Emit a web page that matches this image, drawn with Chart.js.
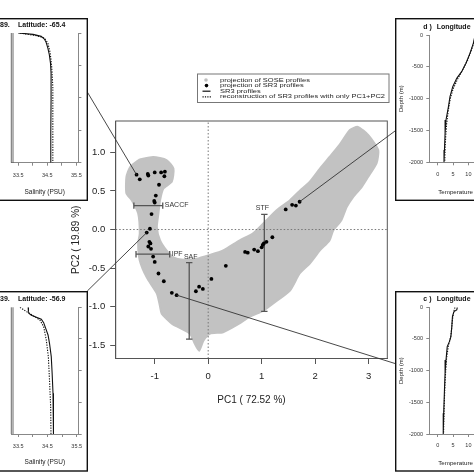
<!DOCTYPE html>
<html><head><meta charset="utf-8">
<script src="https://cdn.jsdelivr.net/npm/chart.js@4.4.1/dist/chart.umd.min.js"></script>
<style>
html,body{margin:0;padding:0;background:#fff;overflow:hidden;width:474px;height:474px;position:relative;}
canvas{position:absolute;display:block;}
</style></head><body>
<canvas id="main" width="474" height="474" style="left:0;top:0;width:474px;height:474px"></canvas>
<canvas id="pa" width="88" height="183" style="left:0;top:18px;width:88px;height:183px"></canvas>
<canvas id="pb" width="88" height="181" style="left:0;top:291px;width:88px;height:181px"></canvas>
<canvas id="pc" width="110" height="181" style="left:395px;top:291px;width:110px;height:181px"></canvas>
<canvas id="pd" width="110" height="183" style="left:395px;top:18px;width:110px;height:183px"></canvas>
<script>
// ---------------- DATA ----------------
const pc1Ticks = [-1, 0, 1, 2, 3];
const pc2Ticks = [-1.5, -1, -0.5, 0, 0.5, 1];
const pc1Min = -1.73, pc1Max = 3.35, pc2Min = -1.671, pc2Max = 1.406;

// outline of the cloud of SOSE projections
const soseOutlinePC1 = [-1.28,-1.03,-0.78,-0.65,-0.68,-0.84,-0.90,-0.93,-0.96,-0.90,-0.78,-0.65,-0.47,-0.22,0.03,0.28,0.59,0.84,1.09,1.28,1.53,1.71,1.90,2.09,2.27,2.46,2.65,2.80,3.00,3.18,3.15,2.99,2.87,2.71,2.59,2.49,2.34,2.27,2.09,1.90,1.71,1.53,1.21,1.03,0.78,0.53,0.28,0.03,-0.09,-0.17,-0.25,-0.34,-0.68,-0.87,-0.90,-0.96,-1.15,-1.28,-1.31,-1.28,-1.31,-1.43,-1.53,-1.53,-1.46,-1.28];
const soseOutlinePC2 = [0.91,0.94,0.90,0.79,0.62,0.53,0.38,0.21,0.03,-0.14,-0.27,-0.36,-0.39,-0.38,-0.33,-0.27,-0.14,-0.05,0.12,0.25,0.38,0.50,0.62,0.79,0.94,1.10,1.29,1.33,1.22,1.03,0.86,0.68,0.55,0.42,0.29,0.12,-0.01,-0.14,-0.27,-0.44,-0.57,-0.79,-0.96,-1.05,-1.13,-1.24,-1.33,-1.35,-1.44,-1.57,-1.48,-1.35,-1.22,-1.09,-1.0,-0.83,-0.62,-0.40,-0.18,-0.05,0.21,0.38,0.47,0.68,0.81,0.91];

// SR3 projections
const sr3PC1 = [-1.34,-1.28,-1.13,-1.12,-1.00,-0.88,-0.81,-0.82,-0.92,-0.98,-1.01,-1.00,-1.06,-1.09,-1.15,-1.10,-1.08,-1.12,-1.07,-1.03,-1.00,-0.93,-0.83,-0.68,-0.59,-0.23,-0.17,-0.10,0.06,0.33,0.69,0.74,0.86,0.93,1.00,1.02,1.04,1.09,1.20,1.45,1.57,1.64,1.71];
const sr3PC2 = [0.71,0.65,0.72,0.70,0.74,0.74,0.75,0.69,0.58,0.44,0.37,0.35,0.20,0.01,-0.04,-0.16,-0.18,-0.22,-0.25,-0.35,-0.42,-0.57,-0.67,-0.82,-0.85,-0.80,-0.74,-0.77,-0.64,-0.47,-0.29,-0.30,-0.26,-0.28,-0.23,-0.20,-0.18,-0.16,-0.10,0.26,0.32,0.31,0.36];

// fronts (range bars)
const frontNames   = ['SACCF', 'IPF', 'SAF', 'STF'];
const frontPC1From = [-1.39, -1.35, -0.355, 1.05];
const frontPC1To   = [-0.85, -0.72, -0.355, 1.05];
const frontPC2From = [0.31, -0.32, -1.42, -1.06];
const frontPC2To   = [0.31, -0.32, -0.43, 0.195];

const legendLabels = ['projection of SOSE profiles', 'projection of SR3 profiles', 'SR3 profiles', 'reconstruction of SR3 profiles with only PC1+PC2'];

// SR3 points shown as profiles in the insets a, b, d, c
const profileIndex = [0, 14, 42, 24];

// inset profiles
const depthTicks = [0, -500, -1000, -1500, -2000];
const salinityTicks = [33.5, 34, 34.5, 35, 35.5];
const salinityLabels = [33.5, 34.5, 35.5];
const tempTicks = [0, 5, 10, 15];

const aDepthSR3 = [0,-21,-52,-93,-144,-232,-335,-464,-619,-1031,-1546,-2000];
const aSalSR3   = [33.5,34.01,34.29,34.40,34.46,34.52,34.57,34.61,34.63,34.63,34.62,34.62];
const aDepthRec = [0,-41,-77,-155,-309,-515,-825,-1289,-2000];
const aSalRec   = [33.56,34.12,34.40,34.52,34.60,34.65,34.69,34.69,34.69];

const bDepthSR3 = [0,-68,-95,-126,-158,-189,-242,-332,-437,-568,-779,-1042,-1358,-1674,-2000];
const bSalSR3   = [33.84,33.85,33.87,33.95,34.12,34.29,34.37,34.44,34.52,34.57,34.63,34.66,34.69,34.70,34.71];
const bDepthRec = [0,-68,-132,-200,-305,-516,-779,-1147,-1569,-2000];
const bSalRec   = [33.56,33.78,34.01,34.24,34.37,34.46,34.53,34.57,34.61,34.62];

const cDepthSR3 = [0,-42,-68,-147,-305,-463,-542,-621,-832,-1042,-1305,-1674,-2000];
const cTempSR3  = [6.4,6.2,5.3,4.8,4.6,4.3,3.8,3.1,2.7,2.4,2.2,1.95,1.8];
const cDepthRec = [0,-100,-200,-300,-400,-500,-600,-800,-1000,-1300,-1600,-2000];
const cTempRec  = [5.6,5.1,4.8,4.6,4.4,4.1,3.5,2.9,2.6,2.3,2.1,1.9];

const dDepthSR3 = [0,-131,-288,-445,-576,-681,-812,-969,-1126,-1335,-1545,-1806,-2000];
const dTempSR3  = [12.2,11.6,10.5,9.2,7.8,6.2,4.9,4.0,3.5,2.7,2.4,2.2,2.05];
const dDepthRec = [0,-100,-250,-400,-550,-700,-850,-1000,-1200,-1400,-1600,-1800,-2000];
const dTempRec  = [12.4,11.9,10.9,9.7,8.1,6.4,5.0,4.1,3.4,2.9,2.6,2.4,2.3];

// ---------------- DRAWING ----------------
const FONT = "'Liberation Sans', Arial, Helvetica, sans-serif";
const zip = (xs, ys) => xs.map((v, i) => ({x: v, y: ys[i]}));
// page positions of the inset edges where connector lines end (a, b, d, c)
const panelAnchors = [[87.3, 92], [87.3, 291], [395, 131], [395, 363.5]];

const frontDatasets = frontNames.map((n, i) => {
  const horiz = frontPC2From[i] === frontPC2To[i];
  return {
    label: n, data: [{x: frontPC1From[i], y: frontPC2From[i]}, {x: frontPC1To[i], y: frontPC2To[i]}],
    borderColor: '#555', borderWidth: 1.3, showLine: true, fill: false,
    pointStyle: 'line', pointRotation: horiz ? 90 : 0, pointRadius: 3.2,
    pointBorderColor: '#555', pointBorderWidth: 1.3, order: 3
  };
});

const mainPlugin = {
  id: 'mainDecor',
  afterDatasetsDraw(chart) {
    const {ctx, chartArea: a, scales: {x, y}} = chart;
    ctx.save();
    ctx.strokeStyle = '#555'; ctx.lineWidth = 1;
    ctx.strokeRect(a.left, a.top, a.right - a.left, a.bottom - a.top);
    // connectors
    ctx.strokeStyle = '#333'; ctx.lineWidth = 0.9;
    profileIndex.forEach((idx, k) => {
      ctx.beginPath();
      ctx.moveTo(x.getPixelForValue(sr3PC1[idx]), y.getPixelForValue(sr3PC2[idx]));
      ctx.lineTo(panelAnchors[k][0], panelAnchors[k][1]);
      ctx.stroke();
    });
    // front labels
    ctx.fillStyle = '#333'; ctx.font = `7px ${FONT}`;
    frontNames.forEach((n, i) => {
      const horiz = frontPC2From[i] === frontPC2To[i];
      if (horiz) {
        ctx.textAlign = 'left'; ctx.textBaseline = 'middle';
        ctx.fillText(n, x.getPixelForValue(frontPC1To[i]) + 2, y.getPixelForValue(frontPC2To[i]) - 0.5);
      } else {
        ctx.textAlign = 'center'; ctx.textBaseline = 'middle';
        const dx = i === 2 ? 1.5 : -2;
        ctx.fillText(n, x.getPixelForValue(frontPC1To[i]) + dx, y.getPixelForValue(frontPC2To[i]) - 6);
      }
    });
    // legend
    const lx = 197, ly = 73.5, lw = 191.5, lh = 28.5;
    ctx.fillStyle = '#fff'; ctx.fillRect(lx, ly, lw, lh);
    ctx.strokeStyle = '#777'; ctx.lineWidth = 1;
    ctx.strokeRect(lx + 0.5, ly + 0.5, lw, lh);
    const rows = [80, 85.6, 91.2, 96.8];
    ctx.fillStyle = '#bfbfbf'; ctx.beginPath(); ctx.arc(206, rows[0], 1.8, 0, Math.PI * 2); ctx.fill();
    ctx.fillStyle = '#000'; ctx.beginPath(); ctx.arc(206.5, rows[1], 1.8, 0, Math.PI * 2); ctx.fill();
    ctx.strokeStyle = '#111'; ctx.lineWidth = 1.2;
    ctx.beginPath(); ctx.moveTo(202.5, rows[2]); ctx.lineTo(210.5, rows[2]); ctx.stroke();
    ctx.setLineDash([1.2, 1.2]);
    ctx.beginPath(); ctx.moveTo(202.5, rows[3]); ctx.lineTo(211, rows[3]); ctx.stroke();
    ctx.setLineDash([]);
    ctx.fillStyle = '#222'; ctx.font = `6px ${FONT}`; ctx.textAlign = 'left'; ctx.textBaseline = 'middle';
    const widest = Math.max(...legendLabels.map(t => ctx.measureText(t).width));
    const sx = 165 / widest;
    legendLabels.forEach((t, i) => {
      ctx.save(); ctx.translate(220, rows[i]); ctx.scale(sx, 1); ctx.fillText(t, 0, 0); ctx.restore();
    });
    ctx.restore();
  }
};

new Chart(document.getElementById('main'), {
  type: 'line',
  data: {
    datasets: [
      {label: 'SOSE', data: zip(soseOutlinePC1, soseOutlinePC2), borderColor: '#c2c2c2', backgroundColor: '#c2c2c2',
       borderWidth: 2, fill: 'shape', pointRadius: 0, tension: 0.2, order: 10},
      {label: 'zero-x', data: [{x: 0, y: pc2Min}, {x: 0, y: pc2Max}], borderColor: '#777', borderWidth: 1,
       borderDash: [1.5, 2], pointRadius: 0, fill: false, order: 6},
      {label: 'zero-y', data: [{x: pc1Min, y: 0}, {x: pc1Max, y: 0}], borderColor: '#777', borderWidth: 1,
       borderDash: [1.5, 2], pointRadius: 0, fill: false, order: 6},
      ...frontDatasets,
      {label: 'SR3', data: zip(sr3PC1, sr3PC2), showLine: false, pointRadius: 1.9, pointBackgroundColor: '#000',
       pointBorderWidth: 0, pointBorderColor: '#000', order: 1}
    ]
  },
  options: {
    responsive: false, animation: false, events: [],
    layout: {padding: {left: 66, right: 86.7, top: 121, bottom: 67.5}},
    plugins: {legend: {display: false}, tooltip: {enabled: false}},
    scales: {
      x: {
        type: 'linear', min: pc1Min, max: pc1Max,
        afterFit: s => { s.height = 48; },
        afterBuildTicks: s => { s.ticks = pc1Ticks.map(v => ({value: v})); },
        ticks: {font: {family: FONT, size: 9.5}, color: '#222', padding: 7, maxRotation: 0, autoSkip: false, callback: v => String(v)},
        grid: {drawOnChartArea: false, drawTicks: true, tickLength: 5.5, color: '#555'},
        border: {display: true, color: '#555'},
        title: {display: true, text: 'PC1 ( 72.52 %)', font: {family: FONT, size: 10}, color: '#222', padding: {top: 0, bottom: 0}}
      },
      y: {
        type: 'linear', min: pc2Min, max: pc2Max,
        afterFit: s => { s.width = 49.7; },
        afterBuildTicks: s => { s.ticks = pc2Ticks.map(v => ({value: v})); },
        ticks: {font: {family: FONT, size: 9.5}, color: '#222', padding: 5, autoSkip: false, callback: v => v.toFixed(1)},
        grid: {drawOnChartArea: false, drawTicks: true, tickLength: 5.5, color: '#555'},
        border: {display: true, color: '#555'},
        title: {display: true, text: 'PC2 ( 19.89 %)', font: {family: FONT, size: 10}, color: '#222', padding: {top: 4, bottom: 0}}
      }
    }
  },
  plugins: [mainPlugin]
});

function inset(id, o) {
  const deco = {
    id: 'deco' + id,
    beforeDraw(chart) {
      const c = chart.ctx; c.save(); c.fillStyle = '#fff'; c.fillRect(0, 0, chart.width, chart.height); c.restore();
    },
    afterDraw(chart) {
      const c = chart.ctx, a = chart.chartArea;
      c.save();
      if (o.doubleLeft) {
        c.strokeStyle = '#444'; c.lineWidth = 0.8;
        [a.left + 0.3, a.left + 2].forEach(xx => { c.beginPath(); c.moveTo(xx, a.top); c.lineTo(xx, a.bottom); c.stroke(); });
      }
      c.fillStyle = '#111'; c.font = `bold 7px ${FONT}`; c.textBaseline = 'middle'; c.textAlign = 'left';
      o.titles.forEach(t => c.fillText(t[0], t[1], o.titleY));
      c.strokeStyle = '#111'; c.lineWidth = 1.4;
      c.strokeRect(o.border[0], o.border[1], o.border[2], o.border[3]);
      c.restore();
    }
  };
  const yOpts = {
    type: 'linear', min: -2000, max: 0, position: o.yPos,
    afterFit: s => { s.width = o.yW; },
    afterBuildTicks: s => { s.ticks = depthTicks.map(v => ({value: v})); },
    ticks: {display: o.yLabels, font: {family: FONT, size: 5.5}, color: '#333', padding: 3.3, autoSkip: false, callback: v => String(v)},
    grid: {drawOnChartArea: false, drawTicks: true, tickLength: 3, color: '#888'},
    border: {display: true, color: '#888'},
    title: {display: !!o.yTitle, text: o.yTitle || '', font: {family: FONT, size: 6}, color: '#222', padding: {top: 1.1, bottom: 0}}
  };
  return new Chart(document.getElementById(id), {
    type: 'line',
    data: {datasets: [
      {data: o.solid, borderColor: '#111', borderWidth: 1.1, pointRadius: 0, fill: false, order: 2},
      {data: o.dotted, borderColor: '#111', borderWidth: 1.1, borderDash: [1.3, 1.3], pointRadius: 0, fill: false, order: 1}
    ]},
    options: {
      responsive: false, animation: false, events: [],
      layout: {padding: o.padding},
      plugins: {legend: {display: false}, tooltip: {enabled: false}},
      scales: {
        x: {
          type: 'linear', position: 'bottom', min: o.xMin, max: o.xMax,
          afterFit: s => { s.height = o.xH; },
          afterBuildTicks: s => { s.ticks = o.xTicks.map(v => ({value: v})); },
          ticks: {font: {family: FONT, size: 5.5}, color: '#333', padding: o.xPad, maxRotation: 0, autoSkip: false,
                  callback: v => (o.xLabels.includes(v) ? String(v) : '')},
          grid: {drawOnChartArea: false, drawTicks: true, tickLength: 3, color: '#888'},
          border: {display: true, color: '#888'},
          title: {display: true, text: o.xTitle, font: {family: FONT, size: o.xTitleSize}, color: '#222', padding: {top: 0, bottom: o.xTitlePad}}
        },
        y: yOpts
      }
    },
    plugins: [deco]
  });
}

inset('pa', {
  solid: zip(aSalSR3, aDepthSR3), dotted: zip(aSalRec, aDepthRec),
  padding: {left: 11, top: 15, right: 0, bottom: 0}, yPos: 'right', yW: 8.7, yLabels: false,
  xMin: 33.253, xMax: 35.568, xH: 38.3, xPad: 6, xTitlePad: 4.4, xTitleSize: 6.5,
  xTicks: salinityTicks, xLabels: salinityLabels, xTitle: 'Salinity (PSU)',
  doubleLeft: true, titles: [['89.', 0], ['Latitude: -65.4', 18]], titleY: 7.5,
  border: [-5, 0.7, 92.3, 181.6]
});
inset('pb', {
  solid: zip(bSalSR3, bDepthSR3), dotted: zip(bSalRec, bDepthRec),
  padding: {left: 11, top: 16.3, right: 0, bottom: 0}, yPos: 'right', yW: 8.7, yLabels: false,
  xMin: 33.253, xMax: 35.568, xH: 38, xPad: 5.7, xTitlePad: 5.4, xTitleSize: 6.5,
  xTicks: salinityTicks, xLabels: salinityLabels, xTitle: 'Salinity (PSU)',
  doubleLeft: true, titles: [['39.', 0], ['Latitude: -56.9', 18]], titleY: 8.3,
  border: [-5, 0.7, 92.3, 179.3]
});
inset('pc', {
  solid: zip(cTempSR3, cDepthSR3), dotted: zip(cTempRec, cDepthRec),
  padding: {left: 2, top: 16.3, right: 10.3, bottom: 0}, yPos: 'left', yW: 32.3, yLabels: true, yTitle: 'Depth (m)',
  xMin: -2.74, xMax: 18.57, xH: 38, xPad: 5.4, xTitlePad: 5.4, xTitleSize: 6.2,
  xTicks: tempTicks, xLabels: tempTicks, xTitle: 'Temperature (°C)',
  doubleLeft: false, titles: [['c )', 28.3], ['Longitude', 41.7]], titleY: 8.3,
  border: [0.7, 0.7, 130, 179.3]
});
inset('pd', {
  solid: zip(dTempSR3, dDepthSR3), dotted: zip(dTempRec, dDepthRec),
  padding: {left: 2, top: 17, right: 10.3, bottom: 0}, yPos: 'left', yW: 32.3, yLabels: true, yTitle: 'Depth (m)',
  xMin: -2.74, xMax: 18.57, xH: 38.7, xPad: 5.7, xTitlePad: 5.4, xTitleSize: 6.2,
  xTicks: tempTicks, xLabels: tempTicks, xTitle: 'Temperature (°C)',
  doubleLeft: false, titles: [['d )', 28.3], ['Longitude', 41.7]], titleY: 8.7,
  border: [0.7, 0.7, 130, 181.6]
});
</script>
</body></html>
